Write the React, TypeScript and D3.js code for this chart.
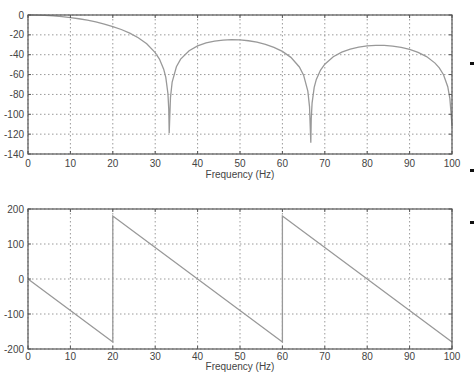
import React from "react";
import * as d3 from "d3";

const magFreq = [0,2,4,6,8,10,12,14,16,18,20,22,24,26,28,30,31,32,32.5,33,33.2,33.3,33.4,33.6,34,35,36,38,40,42,44,46,48,50,52,54,56,58,60,62,64,65,66,66.4,66.6,66.7,66.8,67,67.5,68,69,70,72,74,76,78,80,82,84,86,88,90,92,94,96,97,98,99,99.5,99.8,100];
const magDb = [0,-0.1,-0.4,-0.91,-1.63,-2.58,-3.77,-5.23,-6.99,-9.09,-11.6,-14.61,-18.29,-22.91,-28.98,-37.81,-44.39,-54.52,-62.9,-79.04,-95.05,-119.2,-107.2,-83.2,-67.48,-52.08,-44.46,-35.95,-31.13,-28.11,-26.26,-25.21,-24.85,-25.11,-25.94,-27.4,-29.56,-32.53,-36.68,-42.66,-52.36,-60.58,-76.61,-92.58,-116.7,-128.7,-104.7,-88.8,-72.97,-64.91,-55.43,-49.52,-42.08,-37.46,-34.39,-32.36,-31.13,-30.56,-30.61,-31.26,-32.55,-34.59,-37.57,-41.89,-48.45,-53.28,-60.21,-72.18,-84.2,-100.1,-112];

const phaseFreq = [0,20,20,60,60,100];
const phaseDeg = [0,-180,180,-180,180,-180];

const xTicks = [0,10,20,30,40,50,60,70,80,90,100];
const magTicks = [0,-20,-40,-60,-80,-100,-120,-140];
const phaseTicks = [200,100,0,-100,-200];
const xLabel = "Frequency (Hz)";

const L = 28, R = 452;
const FONT = "Liberation Sans, Arial, sans-serif";

function Panel({ top, bottom, yDomain, yTicks, xs, ys, xLabelY, tickLabelY, titleY }: any) {
  const x = d3.scaleLinear().domain([0, 100]).range([L, R]);
  const y = d3.scaleLinear().domain(yDomain).range([bottom, top]);
  const pts: [number, number][] = xs.map((v: number, i: number) => [x(v), y(ys[i])]);
  const line = d3.line()(pts) || "";
  const axisColor = "#555";
  const gridColor = "#9a9a9a";
  return (
    <g>
      {xTicks.map((t) => (
        <line key={"gx" + t} x1={x(t)} x2={x(t)} y1={top} y2={bottom} stroke={gridColor} strokeWidth={1} strokeDasharray="1.5,2.5" />
      ))}
      {yTicks.map((t: number) => (
        <line key={"gy" + t} x1={L} x2={R} y1={y(t)} y2={y(t)} stroke={gridColor} strokeWidth={1} strokeDasharray="1.5,2.5" />
      ))}
      <path d={line} fill="none" stroke="#999" strokeWidth={1.3} />
      <rect x={L} y={top} width={R - L} height={bottom - top} fill="none" stroke={axisColor} strokeWidth={1.2} />
      {xTicks.map((t) => (
        <g key={"tx" + t}>
          <line x1={x(t)} x2={x(t)} y1={bottom} y2={bottom - 3} stroke={axisColor} />
          <line x1={x(t)} x2={x(t)} y1={top} y2={top + 3} stroke={axisColor} />
          <text x={x(t)} y={tickLabelY} textAnchor="middle" fontSize={10} fill="#444" fontFamily={FONT}>{t}</text>
        </g>
      ))}
      {yTicks.map((t: number) => (
        <g key={"ty" + t}>
          <line x1={L} x2={L + 3} y1={y(t)} y2={y(t)} stroke={axisColor} />
          <line x1={R} x2={R - 3} y1={y(t)} y2={y(t)} stroke={axisColor} />
          <text x={24} y={y(t) + 3.5} textAnchor="end" fontSize={10} fill="#444" fontFamily={FONT}>{t}</text>
        </g>
      ))}
      <text x={(L + R) / 2} y={xLabelY} textAnchor="middle" fontSize={10} fill="#444" fontFamily={FONT}>{xLabel}</text>
    </g>
  );
}

export default function App() {
  return (
    <svg width={474} height={373} style={{ position: "absolute", left: 0, top: 0, background: "#fff" }}>
      <rect x={0} y={0} width={474} height={373} fill="#fff" />
      <Panel top={15} bottom={154} yDomain={[-140, 0]} yTicks={magTicks} xs={magFreq} ys={magDb} tickLabelY={167} xLabelY={178} />
      <Panel top={209} bottom={349} yDomain={[-200, 200]} yTicks={phaseTicks} xs={phaseFreq} ys={phaseDeg} tickLabelY={360} xLabelY={370} />
      <rect x={470} y={62} width={4} height={3} fill="#111" />
      <rect x={470} y={169} width={4} height={3} fill="#111" />
      <rect x={470} y={221} width={4} height={3} fill="#111" />
    </svg>
  );
}
